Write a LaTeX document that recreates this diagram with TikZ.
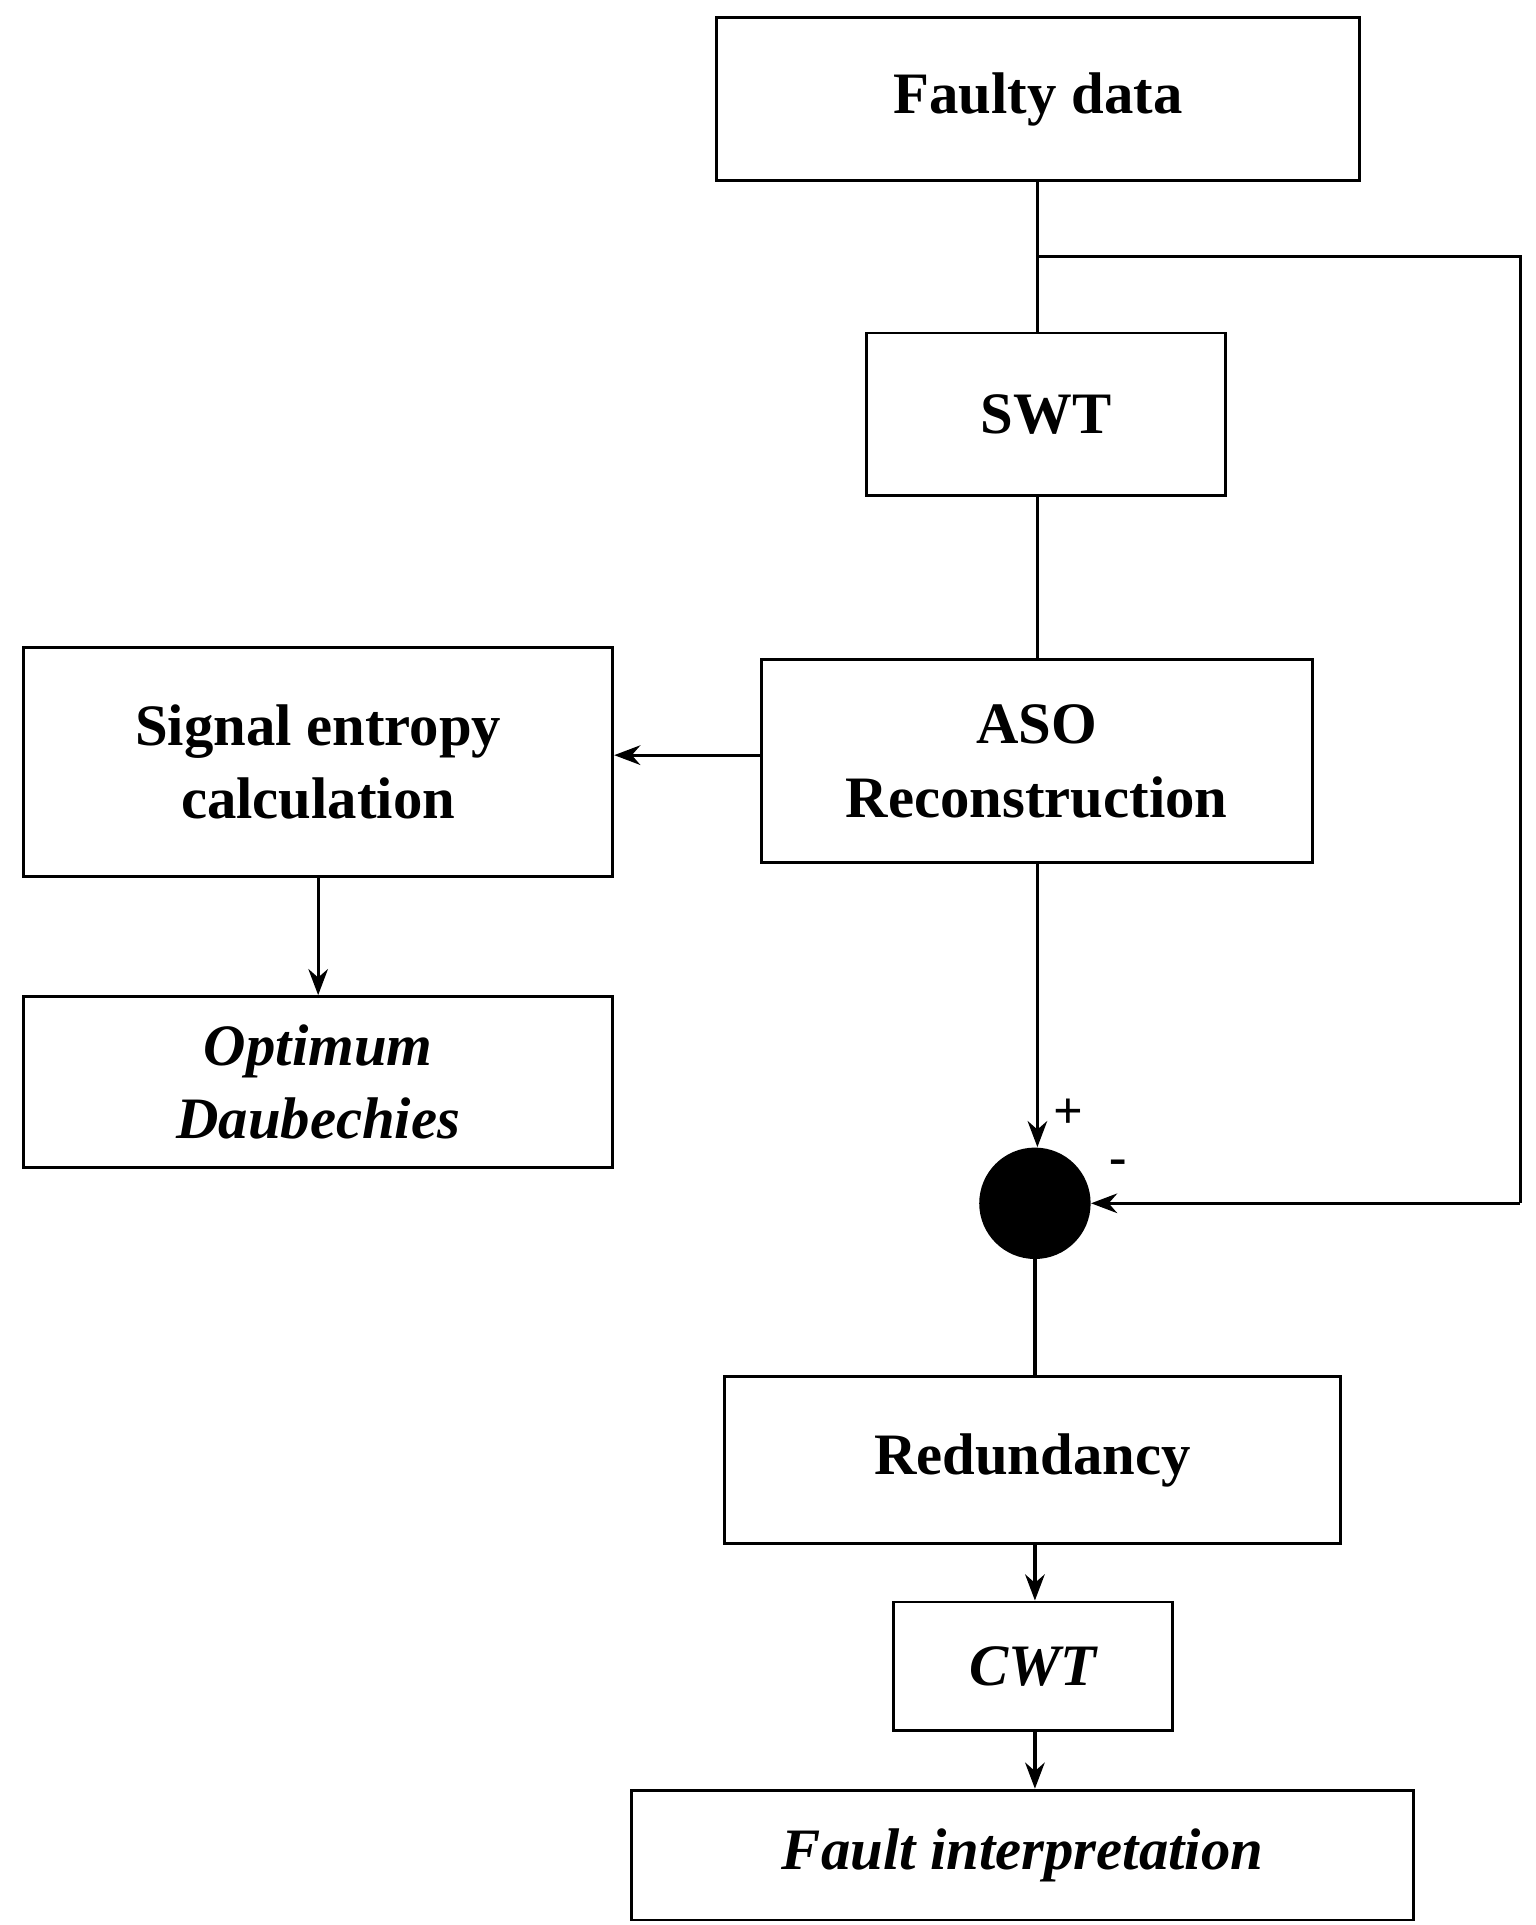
\documentclass[tikz,border=0pt]{standalone}
\usepackage{fontspec}
\setmainfont{Liberation Serif}
\usetikzlibrary{arrows.meta}
\begin{document}
\begin{tikzpicture}[x=0.02cm,y=-0.02cm,
 box/.style={draw,line width=1.3pt,inner sep=0pt,align=center,font=\fontsize{27}{34}\selectfont\bfseries},
 ln/.style={line width=1.5pt},
 ar/.style={ln,-{Stealth[length=12pt,width=9pt]}}]
\useasboundingbox (0,0) rectangle (1240,1555);
\node[box,minimum width=519*0.02cm,minimum height=132*0.02cm] (faulty) at (838.5,80) {Faulty data};
\node[box,minimum width=290*0.02cm,minimum height=131*0.02cm] (swt) at (845,334.5) {SWT};
\node[box,minimum width=445*0.02cm,minimum height=164*0.02cm] (aso) at (837.5,615) {ASO\\Reconstruction};
\node[box,minimum width=476*0.02cm,minimum height=185*0.02cm] (sig) at (257,615.5) {Signal entropy\\calculation};
\node[box,minimum width=476*0.02cm,minimum height=138*0.02cm] (opt) at (257,874) {\itshape Optimum\\\itshape Daubechies};
\node[circle,fill=black,minimum size=90*0.02cm,inner sep=0pt] (sum) at (836,972) {};
\node[box,minimum width=498*0.02cm,minimum height=135*0.02cm] (red) at (834,1179.5) {Redundancy};
\node[box,minimum width=225*0.02cm,minimum height=104*0.02cm] (cwt) at (834.5,1346) {\itshape CWT};
\node[box,minimum width=632*0.02cm,minimum height=105*0.02cm] (fault) at (826,1498.5) {\itshape Fault interpretation};
\coordinate (tap) at (838,207);
\coordinate (rt) at (1228,207);
\coordinate (rb) at (1228,972);
\draw[ln] (faulty.south -| tap) -- (swt.north -| tap);
\draw[ln] (swt.south -| tap) -- (aso.north -| tap);
\draw[ln] (tap) -- (rt) -- (rb);
\draw[ar] (rb) -- (sum.east);
\draw[ar] (aso.south -| tap) -- (sum.north -| tap);
\draw[ar] (aso.west |- 0,610) -- (sig.east |- 0,610);
\draw[ar] (sig.south) -- (opt.north);
\draw[ln] (sum.south) -- (red.north -| sum);
\draw[ar] (red.south -| sum) -- (cwt.north -| sum);
\draw[ar] (cwt.south -| sum) -- (fault.north -| sum);
\node[font=\fontsize{24}{28}\selectfont\bfseries] (plus) at (863,900) {+};
\node[font=\fontsize{24}{28}\selectfont\bfseries] (minus) at (903,943) {-};
\end{tikzpicture}
\end{document}
